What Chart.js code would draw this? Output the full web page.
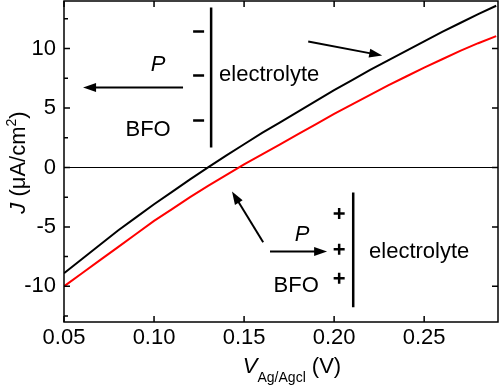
<!DOCTYPE html>
<html lang="en">
<head>
    <meta charset="UTF-8">
    <title>J-V curve</title>
    <style>
        html, body { margin: 0; padding: 0; background: #fff; }
        #wrap { width: 500px; height: 387px; }
    </style>
    <script src="https://cdn.jsdelivr.net/npm/chart.js@4.4.1/dist/chart.umd.min.js"></script>
</head>
<body>
<div id="wrap"><canvas id="jv"></canvas></div>
<script>
    // values
    const voltage = [0.05, 0.06, 0.07, 0.08, 0.09, 0.10, 0.11, 0.12, 0.13, 0.14, 0.15, 0.16, 0.17,
                     0.18, 0.19, 0.20, 0.21, 0.22, 0.23, 0.24, 0.25, 0.26, 0.27, 0.28, 0.29];
    const currentBlack = [-8.9, -7.7, -6.5, -5.3, -4.2, -3.1, -2.05, -1.0, 0.0, 1.0, 1.95, 2.9, 3.8,
                          4.7, 5.6, 6.5, 7.35, 8.2, 9.0, 9.8, 10.6, 11.4, 12.15, 12.9, 13.6];
    const currentRed = [-10.0, -8.9, -7.8, -6.7, -5.6, -4.5, -3.5, -2.5, -1.55, -0.65, 0.25, 1.1, 1.95,
                        2.8, 3.65, 4.5, 5.3, 6.1, 6.9, 7.65, 8.4, 9.1, 9.8, 10.45, 11.05];
    const xTicks = [0.05, 0.10, 0.15, 0.20, 0.25];
    const yTicks = [-10, -5, 0, 5, 10];
    const yMinor = [-12.5, -7.5, -2.5, 2.5, 7.5, 12.5];

    const FONT = '"Liberation Sans", Arial, sans-serif';

    const toPts = (xs, ys) => xs.map((x, i) => ({ x: x, y: ys[i] }));

    function arrow(ctx, x1, y1, x2, y2) {
        const a = Math.atan2(y2 - y1, x2 - x1);
        const len = 13, half = 4.5;
        ctx.beginPath();
        ctx.moveTo(x1, y1);
        ctx.lineTo(x2 - Math.cos(a) * len * 0.8, y2 - Math.sin(a) * len * 0.8);
        ctx.stroke();
        ctx.beginPath();
        ctx.moveTo(x2, y2);
        ctx.lineTo(x2 - Math.cos(a) * len + Math.sin(a) * half, y2 - Math.sin(a) * len - Math.cos(a) * half);
        ctx.lineTo(x2 - Math.cos(a) * len - Math.sin(a) * half, y2 - Math.sin(a) * len + Math.cos(a) * half);
        ctx.closePath();
        ctx.fill();
    }

    const decor = {
        id: 'decor',
        beforeDatasetsDraw(chart) {
            const { ctx, chartArea: ca, scales: { x, y } } = chart;
            ctx.save();
            ctx.strokeStyle = '#000';
            ctx.lineWidth = 1;
            const y0 = Math.round(y.getPixelForValue(0)) + 0.5;
            ctx.beginPath();
            ctx.moveTo(ca.left, y0);
            ctx.lineTo(ca.right, y0);
            ctx.stroke();
            ctx.restore();
        },
        afterDraw(chart) {
            const { ctx, chartArea: ca, scales: { x, y } } = chart;
            const X = v => x.getPixelForValue(v);
            const Y = v => y.getPixelForValue(v);
            ctx.save();
            ctx.strokeStyle = '#000';
            ctx.fillStyle = '#000';

            // frame + inward ticks
            ctx.lineWidth = 1.5;
            ctx.strokeRect(ca.left, ca.top, ca.right - ca.left, ca.bottom - ca.top);
            ctx.beginPath();
            xTicks.forEach(v => {
                ctx.moveTo(X(v), ca.bottom); ctx.lineTo(X(v), ca.bottom - 6);
                ctx.moveTo(X(v), ca.top); ctx.lineTo(X(v), ca.top + 6);
            });
            yTicks.forEach(v => {
                ctx.moveTo(ca.left, Y(v)); ctx.lineTo(ca.left + 6, Y(v));
                ctx.moveTo(ca.right, Y(v)); ctx.lineTo(ca.right - 6, Y(v));
            });
            yMinor.forEach(v => {
                ctx.moveTo(ca.left, Y(v)); ctx.lineTo(ca.left + 4, Y(v));
            });
            ctx.stroke();

            // upper sketch
            ctx.lineWidth = 2;
            arrow(ctx, X(0.1161), Y(6.72), X(0.0606), Y(6.72));
            ctx.lineWidth = 2.5;
            ctx.beginPath();
            [11.43, 7.73, 3.95].forEach(v => {
                ctx.moveTo(X(0.1217), Y(v)); ctx.lineTo(X(0.1278), Y(v));
            });
            ctx.moveTo(X(0.1317), Y(13.45)); ctx.lineTo(X(0.1317), Y(1.68));
            ctx.stroke();

            ctx.font = 'italic 22px ' + FONT;
            ctx.textAlign = 'center';
            ctx.textBaseline = 'middle';
            ctx.fillText('P', X(0.1022), Y(8.66));
            ctx.fillText('P', X(0.1822), Y(-5.63));
            ctx.font = '22px ' + FONT;
            ctx.fillText('BFO', X(0.0967), Y(3.19));
            ctx.fillText('BFO', X(0.1789), Y(-10.0));
            ctx.textAlign = 'left';
            ctx.fillText('electrolyte', X(0.1361), Y(7.8));
            ctx.fillText('electrolyte', X(0.2194), Y(-7.14));

            // pointer arrows
            ctx.lineWidth = 2;
            arrow(ctx, X(0.1856), Y(10.59), X(0.2267), Y(9.41));
            arrow(ctx, X(0.1606), Y(-6.3), X(0.1433), Y(-2.02));

            // lower sketch
            arrow(ctx, X(0.1644), Y(-7.06), X(0.1961), Y(-7.06));
            ctx.lineWidth = 2.5;
            ctx.beginPath();
            [-3.87, -6.89, -9.33].forEach(v => {
                ctx.moveTo(X(0.2028) - 5.5, Y(v)); ctx.lineTo(X(0.2028) + 5.5, Y(v));
                ctx.moveTo(X(0.2028), Y(v) - 5.5); ctx.lineTo(X(0.2028), Y(v) + 5.5);
            });
            ctx.moveTo(X(0.2106), Y(-2.1)); ctx.lineTo(X(0.2106), Y(-11.76));
            ctx.stroke();

            // axis titles
            ctx.textBaseline = 'alphabetic';
            ctx.textAlign = 'left';
            const parts = [
                ['italic 22px ' + FONT, 'J', 0],
                ['22px ' + FONT, ' (\u03bcA/cm', 0],
                ['14px ' + FONT, '2', -9],
                ['22px ' + FONT, ')', 0]
            ];
            let w = 0;
            parts.forEach(p => { ctx.font = p[0]; w += ctx.measureText(p[1]).width; });
            ctx.translate(25, (ca.top + ca.bottom) / 2 + 1);
            ctx.rotate(-Math.PI / 2);
            let cx = -w / 2;
            parts.forEach(p => {
                ctx.font = p[0];
                ctx.fillText(p[1], cx, p[2]);
                cx += ctx.measureText(p[1]).width;
            });
            ctx.setTransform(1, 0, 0, 1, 0, 0);

            const xparts = [
                ['italic 22px ' + FONT, 'V', 0],
                ['14px ' + FONT, 'Ag/Agcl', 9],
                ['22px ' + FONT, ' (V)', 0]
            ];
            w = 0;
            xparts.forEach(p => { ctx.font = p[0]; w += ctx.measureText(p[1]).width; });
            cx = (ca.left + ca.right) / 2 + 11 - w / 2;
            xparts.forEach(p => {
                ctx.font = p[0];
                ctx.fillText(p[1], cx, 373 + p[2]);
                cx += ctx.measureText(p[1]).width;
            });
            ctx.restore();
        }
    };

    new Chart(document.getElementById('jv'), {
        type: 'line',
        data: {
            datasets: [
                { data: toPts(voltage, currentBlack), borderColor: '#000', borderWidth: 2, pointRadius: 0, tension: 0 },
                { data: toPts(voltage, currentRed), borderColor: '#ff0000', borderWidth: 2, pointRadius: 0, tension: 0 }
            ]
        },
        options: {
            responsive: true,
            maintainAspectRatio: false,
            animation: false,
            layout: { padding: { top: 1, right: 2, left: 0, bottom: 0 } },
            plugins: { legend: { display: false }, tooltip: { enabled: false } },
            scales: {
                x: {
                    type: 'linear',
                    min: 0.05, max: 0.291,
                    afterBuildTicks: s => { s.ticks = xTicks.map(v => ({ value: v })); },
                    afterFit: s => { s.height = 65; s.paddingLeft = 0; s.paddingRight = 0; },
                    grid: { display: false, drawTicks: false },
                    border: { display: false },
                    ticks: {
                        padding: 3,
                        color: '#000',
                        font: { family: FONT, size: 22 },
                        maxRotation: 0,
                        callback: v => v.toFixed(2)
                    }
                },
                y: {
                    min: -13, max: 14,
                    afterBuildTicks: s => { s.ticks = yTicks.map(v => ({ value: v })); },
                    afterFit: s => { s.width = 64; s.paddingTop = 0; s.paddingBottom = 0; },
                    grid: { display: false, drawTicks: false },
                    border: { display: false },
                    ticks: {
                        padding: 8,
                        color: '#000',
                        font: { family: FONT, size: 22 }
                    }
                }
            }
        },
        plugins: [decor]
    });
</script>
</body>
</html>
